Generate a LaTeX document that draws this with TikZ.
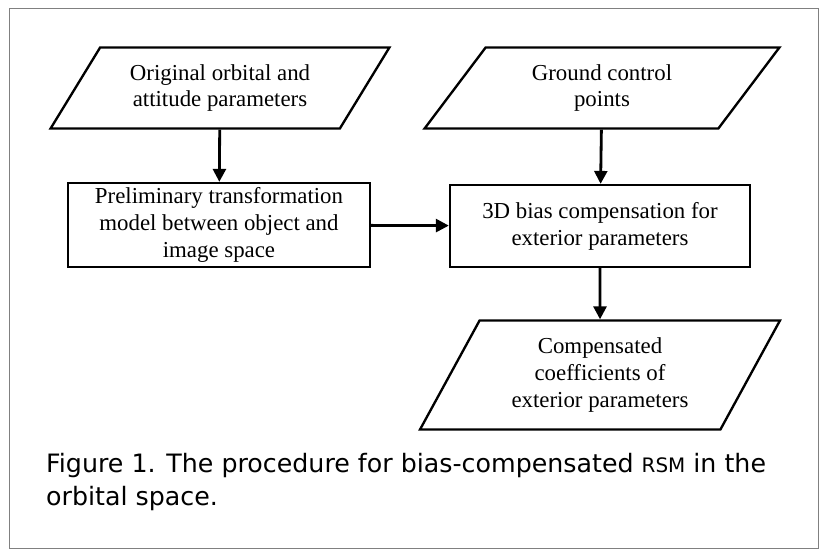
\documentclass[tikz,border=0pt]{standalone}
\usepackage{fontspec}
\setmainfont{Liberation Serif}
\newfontfamily\capfont{DejaVu Sans}
\usetikzlibrary{arrows.meta, shapes.geometric, positioning}

\begin{document}
\begin{tikzpicture}[x=0.03cm, y=-0.03cm,
    box/.style={draw, line width=2pt, rectangle, align=center, font=\fontsize{19.5}{23}\selectfont},
    para/.style={draw, line width=2pt, trapezium, trapezium stretches=true, align=center,
        font=\fontsize{19.5}{23}\selectfont},
    flow/.style={line width=2.4pt, -{Triangle[length=11pt, width=11pt]}}]
        \draw[gray, line width=0.6pt] (9,8) rectangle (818,548);
        \useasboundingbox (0,0) rectangle (827,560);

        \node[para, trapezium left angle=55, trapezium right angle=125,
            minimum width=10.2cm, minimum height=2.43cm] (orbit) at (220,88)
            {Original orbital and\\attitude parameters};
        \node[para, trapezium left angle=55, trapezium right angle=125,
            minimum width=10.65cm, minimum height=2.43cm] (gcp) at (602,88)
            {Ground control\\points};
        \node[box, minimum width=9.06cm, minimum height=2.52cm] (prelim) at (219,225)
            {Preliminary transformation\\model between object and\\image space};
        \node[box, minimum width=9cm, minimum height=2.46cm] (bias) at (600,226)
            {3D bias compensation for\\exterior parameters};
        \node[para, trapezium left angle=61, trapezium right angle=119,
            minimum width=10.8cm, minimum height=3.27cm] (coef) at (600,375)
            {Compensated\\coefficients of\\exterior parameters};

        \draw[flow] (orbit) -- (prelim);
        \draw[flow] (gcp) -- (bias);
        \draw[flow] (prelim) -- (bias);
        \draw[flow] (bias) -- (coef);

        \node[anchor=north west, align=left, inner sep=0pt, font=\capfont\fontsize{21.6}{28}\selectfont] (cap) at (46,453)
            {Figure 1. The procedure for bias-compensated {\fontsize{17}{28}\selectfont RSM} in the\\orbital space.};
\end{tikzpicture}
\end{document}
